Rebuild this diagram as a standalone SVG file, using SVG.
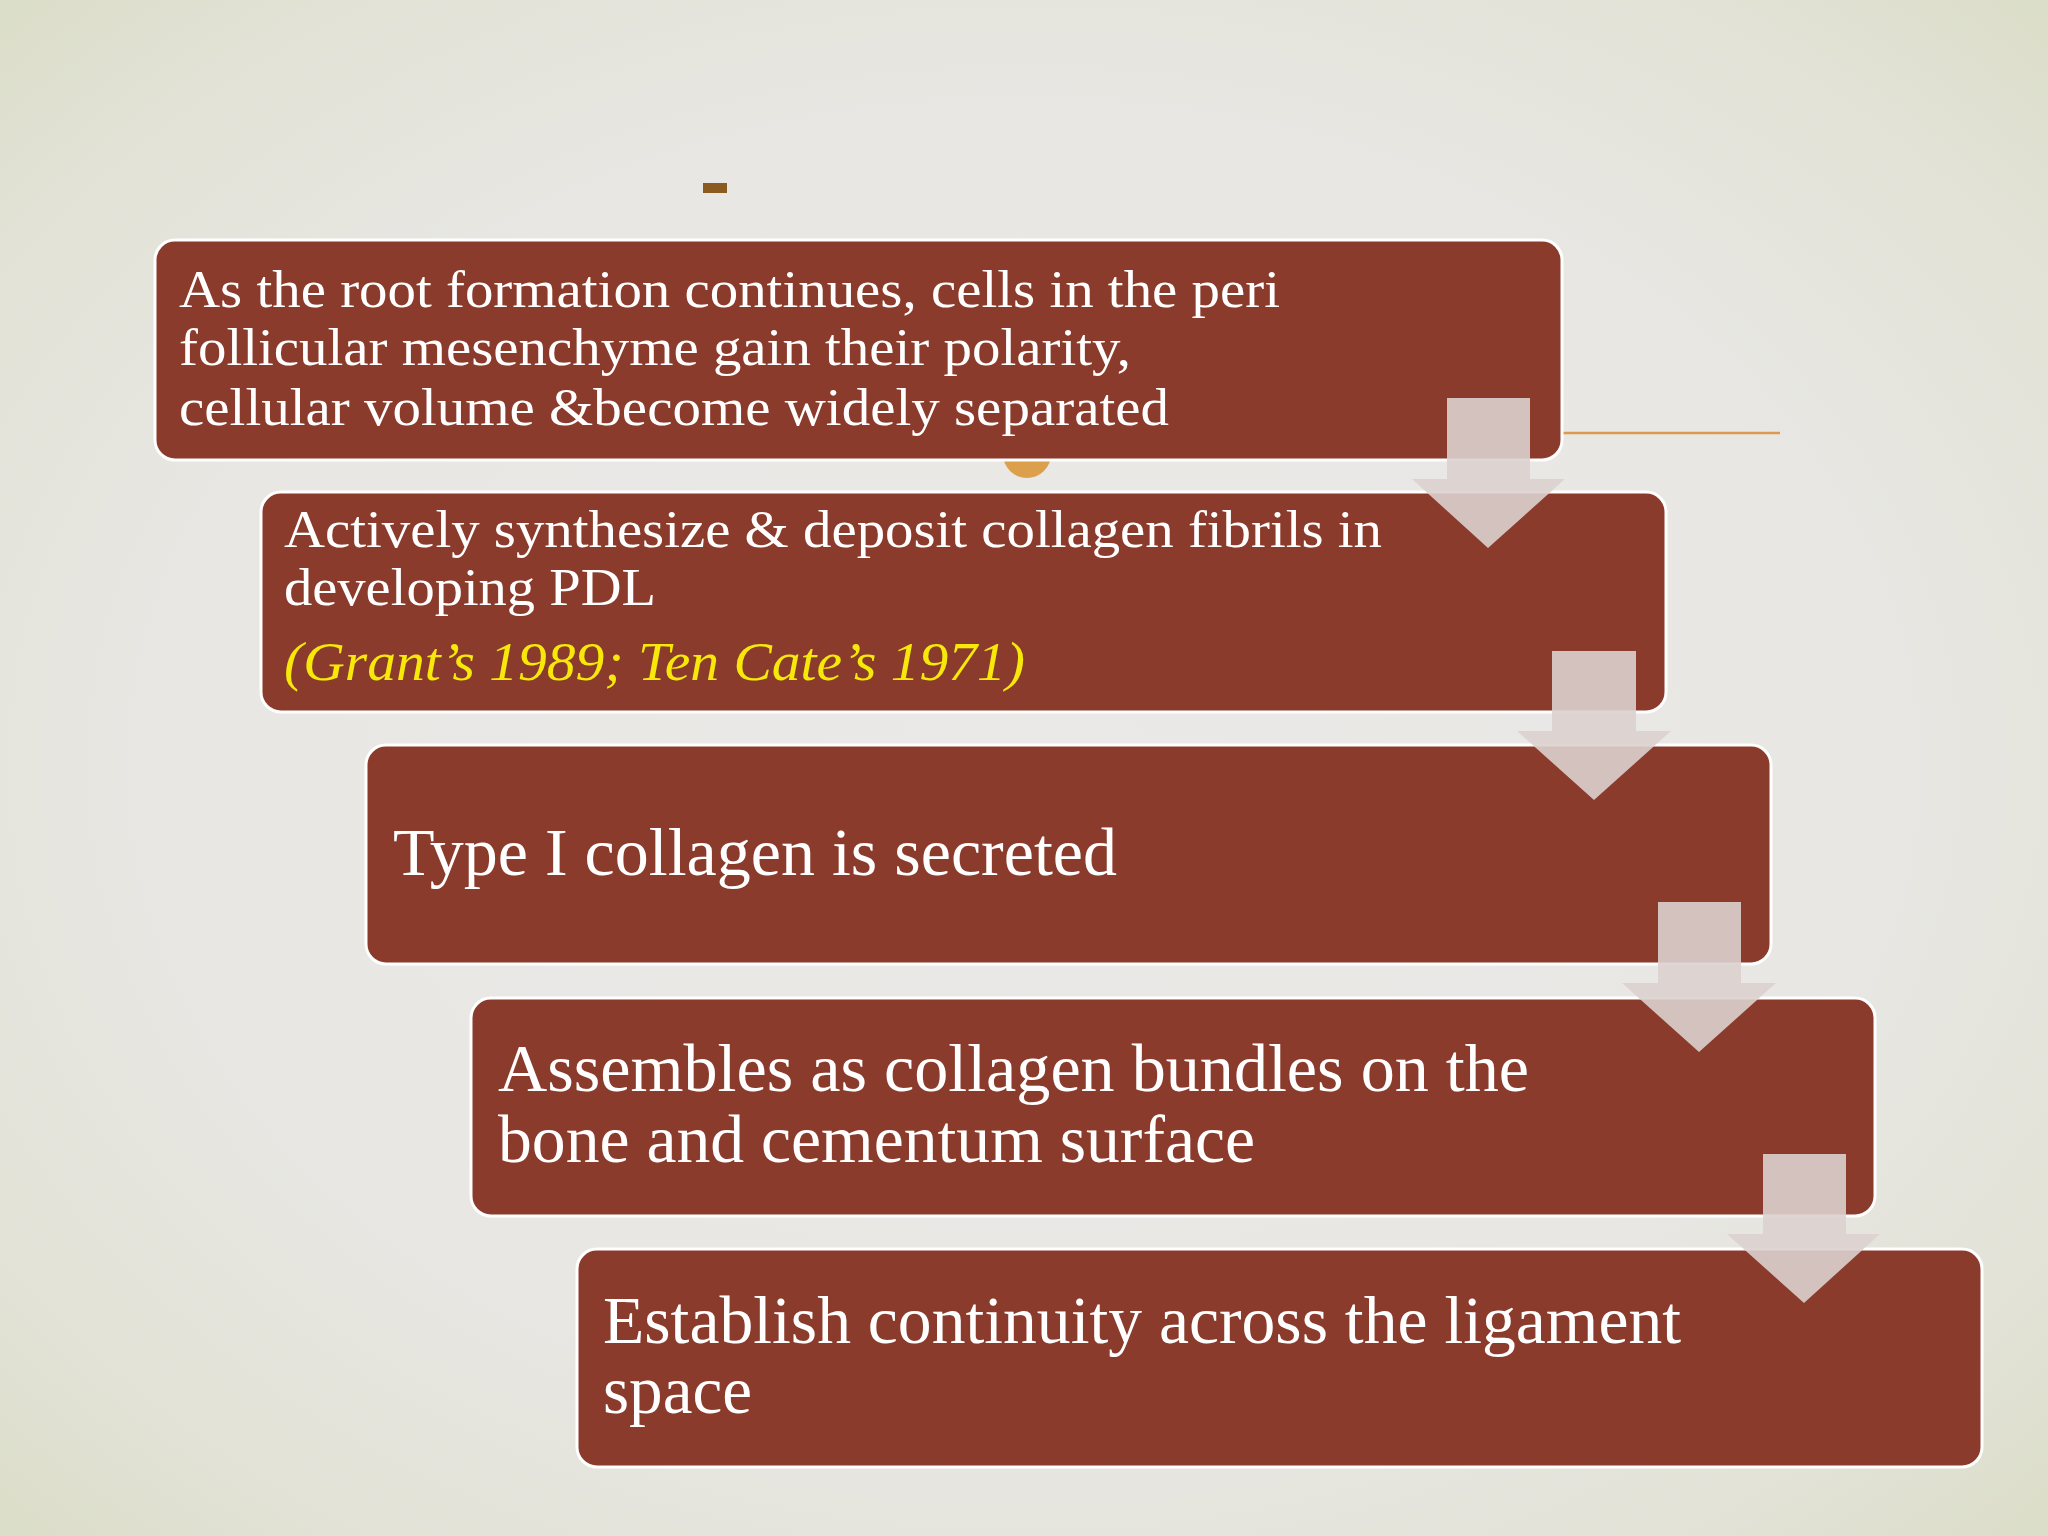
<svg xmlns="http://www.w3.org/2000/svg" width="2048" height="1536" viewBox="0 0 2048 1536">
<defs>
<radialGradient id="bg" cx="50%" cy="50%" r="75%">
<stop offset="0" stop-color="#ebe9e7"/>
<stop offset="0.55" stop-color="#e8e7e4"/>
<stop offset="0.8" stop-color="#e2e2d6"/>
<stop offset="1" stop-color="#d8dcc2"/>
</radialGradient>
<style>
.box{fill:#8b3b2b;stroke:#ffffff;stroke-width:3}
.t{font-family:"Liberation Serif","Times New Roman",serif;fill:#ffffff}
.s{font-size:53px}
.l{font-size:68px}
.cite{font-family:"Liberation Serif","Times New Roman",serif;font-style:italic;font-size:55px;fill:#f5e80a}
.arr{fill:#dbd2cf;fill-opacity:0.9}
</style>
</defs>
<rect x="0" y="0" width="2048" height="1536" fill="url(#bg)"/>
<rect x="703" y="183" width="24" height="10" fill="#8b5a1e"/>
<line x1="1563" y1="433" x2="1780" y2="433" stroke="#dc9a50" stroke-width="2.5"/>
<circle cx="1027" cy="454" r="24" fill="#dca04c"/>
<g id="node1">
<rect class="box" x="155" y="240" width="1407" height="220" rx="20"/>
<text class="t s" x="179" y="307" textLength="1101" lengthAdjust="spacingAndGlyphs">As the root formation continues, cells in the peri</text>
<text class="t s" x="179" y="365" textLength="952" lengthAdjust="spacingAndGlyphs">follicular mesenchyme gain their polarity,</text>
<text class="t s" x="179" y="425" textLength="990" lengthAdjust="spacingAndGlyphs">cellular volume &amp;become widely separated</text>
</g>
<g id="node2">
<rect class="box" x="261" y="492" width="1405" height="220" rx="20"/>
<text class="t s" x="284" y="547" textLength="1098" lengthAdjust="spacingAndGlyphs">Actively synthesize &amp; deposit collagen fibrils in</text>
<text class="t s" x="284" y="605" textLength="372" lengthAdjust="spacingAndGlyphs">developing PDL</text>
<text class="cite" x="284" y="680" textLength="741" lengthAdjust="spacingAndGlyphs">(Grant’s 1989; Ten Cate’s 1971)</text>
</g>
<g id="node3">
<rect class="box" x="366" y="745" width="1405" height="219" rx="20"/>
<text class="t l" x="393" y="875" textLength="724" lengthAdjust="spacingAndGlyphs">Type I collagen is secreted</text>
</g>
<g id="node4">
<rect class="box" x="471" y="998" width="1404" height="218" rx="20"/>
<text class="t l" x="498" y="1091" textLength="1031" lengthAdjust="spacingAndGlyphs">Assembles as collagen bundles on the</text>
<text class="t l" x="498" y="1162" textLength="757" lengthAdjust="spacingAndGlyphs">bone and cementum surface</text>
</g>
<g id="node5">
<rect class="box" x="577" y="1249" width="1405" height="218" rx="20"/>
<text class="t l" x="603" y="1343" textLength="1078" lengthAdjust="spacingAndGlyphs">Establish continuity across the ligament</text>
<text class="t l" x="603" y="1413" textLength="149" lengthAdjust="spacingAndGlyphs">space</text>
</g>
<g id="connectors">
<path class="arr" d="M1447 398 H1530 V479 H1565 L1488 548 L1412 479 H1447 Z"/>
<path class="arr" d="M1552 651 H1636 V731 H1671 L1594 800 L1517 731 H1552 Z"/>
<path class="arr" d="M1658 902 H1741 V983 H1776 L1699 1052 L1622 983 H1658 Z"/>
<path class="arr" d="M1763 1154 H1846 V1234 H1880 L1804 1303 L1727 1234 H1763 Z"/>
</g>
</svg>
